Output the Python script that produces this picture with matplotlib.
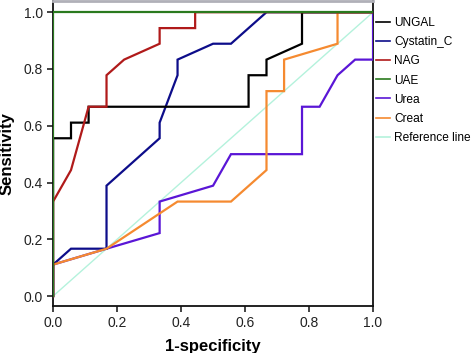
import matplotlib
matplotlib.use("Agg")
import matplotlib.pyplot as plt
from matplotlib.lines import Line2D

plt.rcParams['font.family'] = ['Liberation Sans', 'DejaVu Sans']

# ROC curve points (1-specificity, sensitivity)
ungal_x = [0, 0, 0.056, 0.056, 0.111, 0.111, 0.611, 0.611, 0.667, 0.667, 0.778, 0.778, 1.0]
ungal_y = [0, 0.556, 0.556, 0.611, 0.611, 0.667, 0.667, 0.778, 0.778, 0.833, 0.889, 1.0, 1.0]

cys_x = [0, 0, 0.056, 0.167, 0.167, 0.333, 0.333, 0.389, 0.389, 0.5, 0.556, 0.667, 1.0]
cys_y = [0, 0.111, 0.167, 0.167, 0.389, 0.556, 0.611, 0.778, 0.833, 0.889, 0.889, 1.0, 1.0]

nag_x = [0, 0, 0.056, 0.111, 0.167, 0.167, 0.222, 0.333, 0.333, 0.444, 0.444, 1.0]
nag_y = [0, 0.333, 0.444, 0.667, 0.667, 0.778, 0.833, 0.889, 0.944, 0.944, 1.0, 1.0]

uae_x = [0, 0, 1.0]
uae_y = [0, 1.0, 1.0]

urea_x = [0, 0, 0.167, 0.333, 0.333, 0.5, 0.556, 0.778, 0.778, 0.833, 0.889, 0.944, 1.0, 1.0]
urea_y = [0, 0.111, 0.167, 0.222, 0.333, 0.389, 0.5, 0.5, 0.667, 0.667, 0.778, 0.833, 0.833, 1.0]

creat_x = [0, 0, 0.167, 0.389, 0.556, 0.667, 0.667, 0.722, 0.722, 0.889, 0.889, 1.0]
creat_y = [0, 0.111, 0.167, 0.333, 0.333, 0.444, 0.722, 0.722, 0.833, 0.889, 1.0, 1.0]

ref_x = [0, 1.0]
ref_y = [0, 1.0]

names = ["UNGAL", "Cystatin_C", "NAG", "UAE", "Urea", "Creat", "Reference line"]
colors = ["#000000", "#0d0d8a", "#b01a1a", "#2a7a1e", "#5a16d6", "#f58a30", "#b4f2dc"]
ticks = [0.0, 0.2, 0.4, 0.6, 0.8, 1.0]
tick_labels = ["0.0", "0.2", "0.4", "0.6", "0.8", "1.0"]

fig = plt.figure(figsize=(4.74, 3.53), dpi=100)
ax = fig.add_axes([0.112, 0.133, 0.675, 0.863])

series = [(ungal_x, ungal_y), (cys_x, cys_y), (nag_x, nag_y), (uae_x, uae_y),
          (urea_x, urea_y), (creat_x, creat_y), (ref_x, ref_y)]
zorders = [5, 4, 6, 7, 3, 4.5, 2]
for (xs, ys), c, z, n in zip(series, colors, zorders, names):
    lw = 1.0 if n == "Reference line" else 1.6
    ax.plot(xs, ys, color=c, lw=lw, zorder=z, solid_joinstyle='miter')

ax.set_xlim(0, 1.0)
ax.set_ylim(-0.035, 1.038)
ax.set_xticks(ticks)
ax.set_xticklabels(tick_labels)
ax.set_yticks(ticks)
ax.set_yticklabels(tick_labels)
ax.tick_params(direction='out', length=4, width=1.2, labelsize=10, colors='#222222')
for s in ['left', 'bottom', 'right']:
    ax.spines[s].set_linewidth(1.3)
    ax.spines[s].set_color('#111111')
ax.spines['top'].set_color('#b0b0b8')
ax.spines['top'].set_linewidth(2)

ax.set_xlabel("1-specificity", fontsize=12, fontweight='bold', labelpad=6)
ax.set_ylabel("Sensitivity", fontsize=12, fontweight='bold', labelpad=6)

handles = [Line2D([0], [0], color=c, lw=1.2) for c in colors]
fig.legend(handles, names, loc='upper left', bbox_to_anchor=(376 / 474, 1 - 17 / 353),
           frameon=False, fontsize=8.6, handlelength=1.15, handletextpad=0.35,
           labelspacing=0.6, borderpad=0, borderaxespad=0)

fig.savefig("out.png", dpi=100)
